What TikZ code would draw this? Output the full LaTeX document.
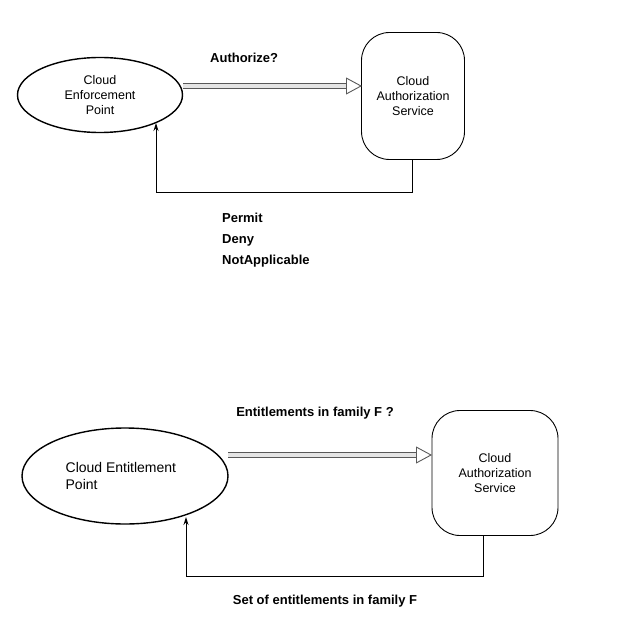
\documentclass[tikz,border=0pt]{standalone}
\usepackage{fontspec}
\setmainfont{Liberation Sans}
\usetikzlibrary{shapes.geometric,arrows.meta}
\begin{document}
\begin{tikzpicture}[x=1pt,y=-1pt,
  ell/.style={draw,line width=1.4pt,ellipse,inner sep=0pt,align=center,font=\fontsize{12.5}{15}\selectfont},
  rbox/.style={draw,line width=0.9pt,rounded corners=28pt,inner sep=0pt,align=center,font=\fontsize{12.5}{15}\selectfont},
  dbl/.style={draw=gray!70!black,double=gray!20,double distance=4.5pt,line width=0.9pt,-{Triangle[open,length=16pt,width=17pt,line width=0.9pt]}},
  ret/.style={draw,line width=0.9pt,-{Stealth[length=8pt,width=5pt]}},
  lbl/.style={font=\bfseries\fontsize{13}{15}\selectfont,inner sep=0pt,anchor=west}]
\useasboundingbox (0,0) rectangle (639,628);
% top
\node[ell,minimum width=165pt,minimum height=75pt] (cep) at (100,95) {Cloud\\Enforcement\\Point};
\node[rbox,minimum width=103pt,minimum height=127pt] (cas1) at (413,96) {Cloud\\Authorization\\Service};
\coordinate (a1) at (183,86);
\coordinate (b1) at (362,86);
\draw[dbl] (a1) -- (b1);
\node[lbl] (t1) at (210,58) {Authorize?};
\coordinate (c1) at (412,192);
\coordinate (d1) at (156,192);
\coordinate (e1) at (156,123);
\draw[ret] (cas1.south -| c1) -- (c1) -- (d1) -- (e1);
\node[lbl,align=left,anchor=north west] (t2) at (222,213) {Permit\\[6pt]Deny\\[6pt]NotApplicable};
% bottom
\node[ell,minimum width=206pt,minimum height=96pt,align=left,font=\fontsize{14}{17}\selectfont] (cent) at (125,476) {Cloud Entitlement\\Point\hspace*{6.2em}};
\node[rbox,minimum width=126pt,minimum height=125pt] (cas2) at (495,473) {Cloud\\Authorization\\Service};
\coordinate (a2) at (228,455);
\coordinate (b2) at (432,455);
\draw[dbl] (a2) -- (b2);
\node[lbl,anchor=center] (t3) at (315,413) {Entitlements in family F ?};
\coordinate (c2) at (483,576);
\coordinate (d2) at (186,576);
\coordinate (e2) at (186,517);
\draw[ret] (cas2.south -| c2) -- (c2) -- (d2) -- (e2);
\node[lbl,anchor=center] (t4) at (325,601) {Set of entitlements in family F};
\end{tikzpicture}
\end{document}
